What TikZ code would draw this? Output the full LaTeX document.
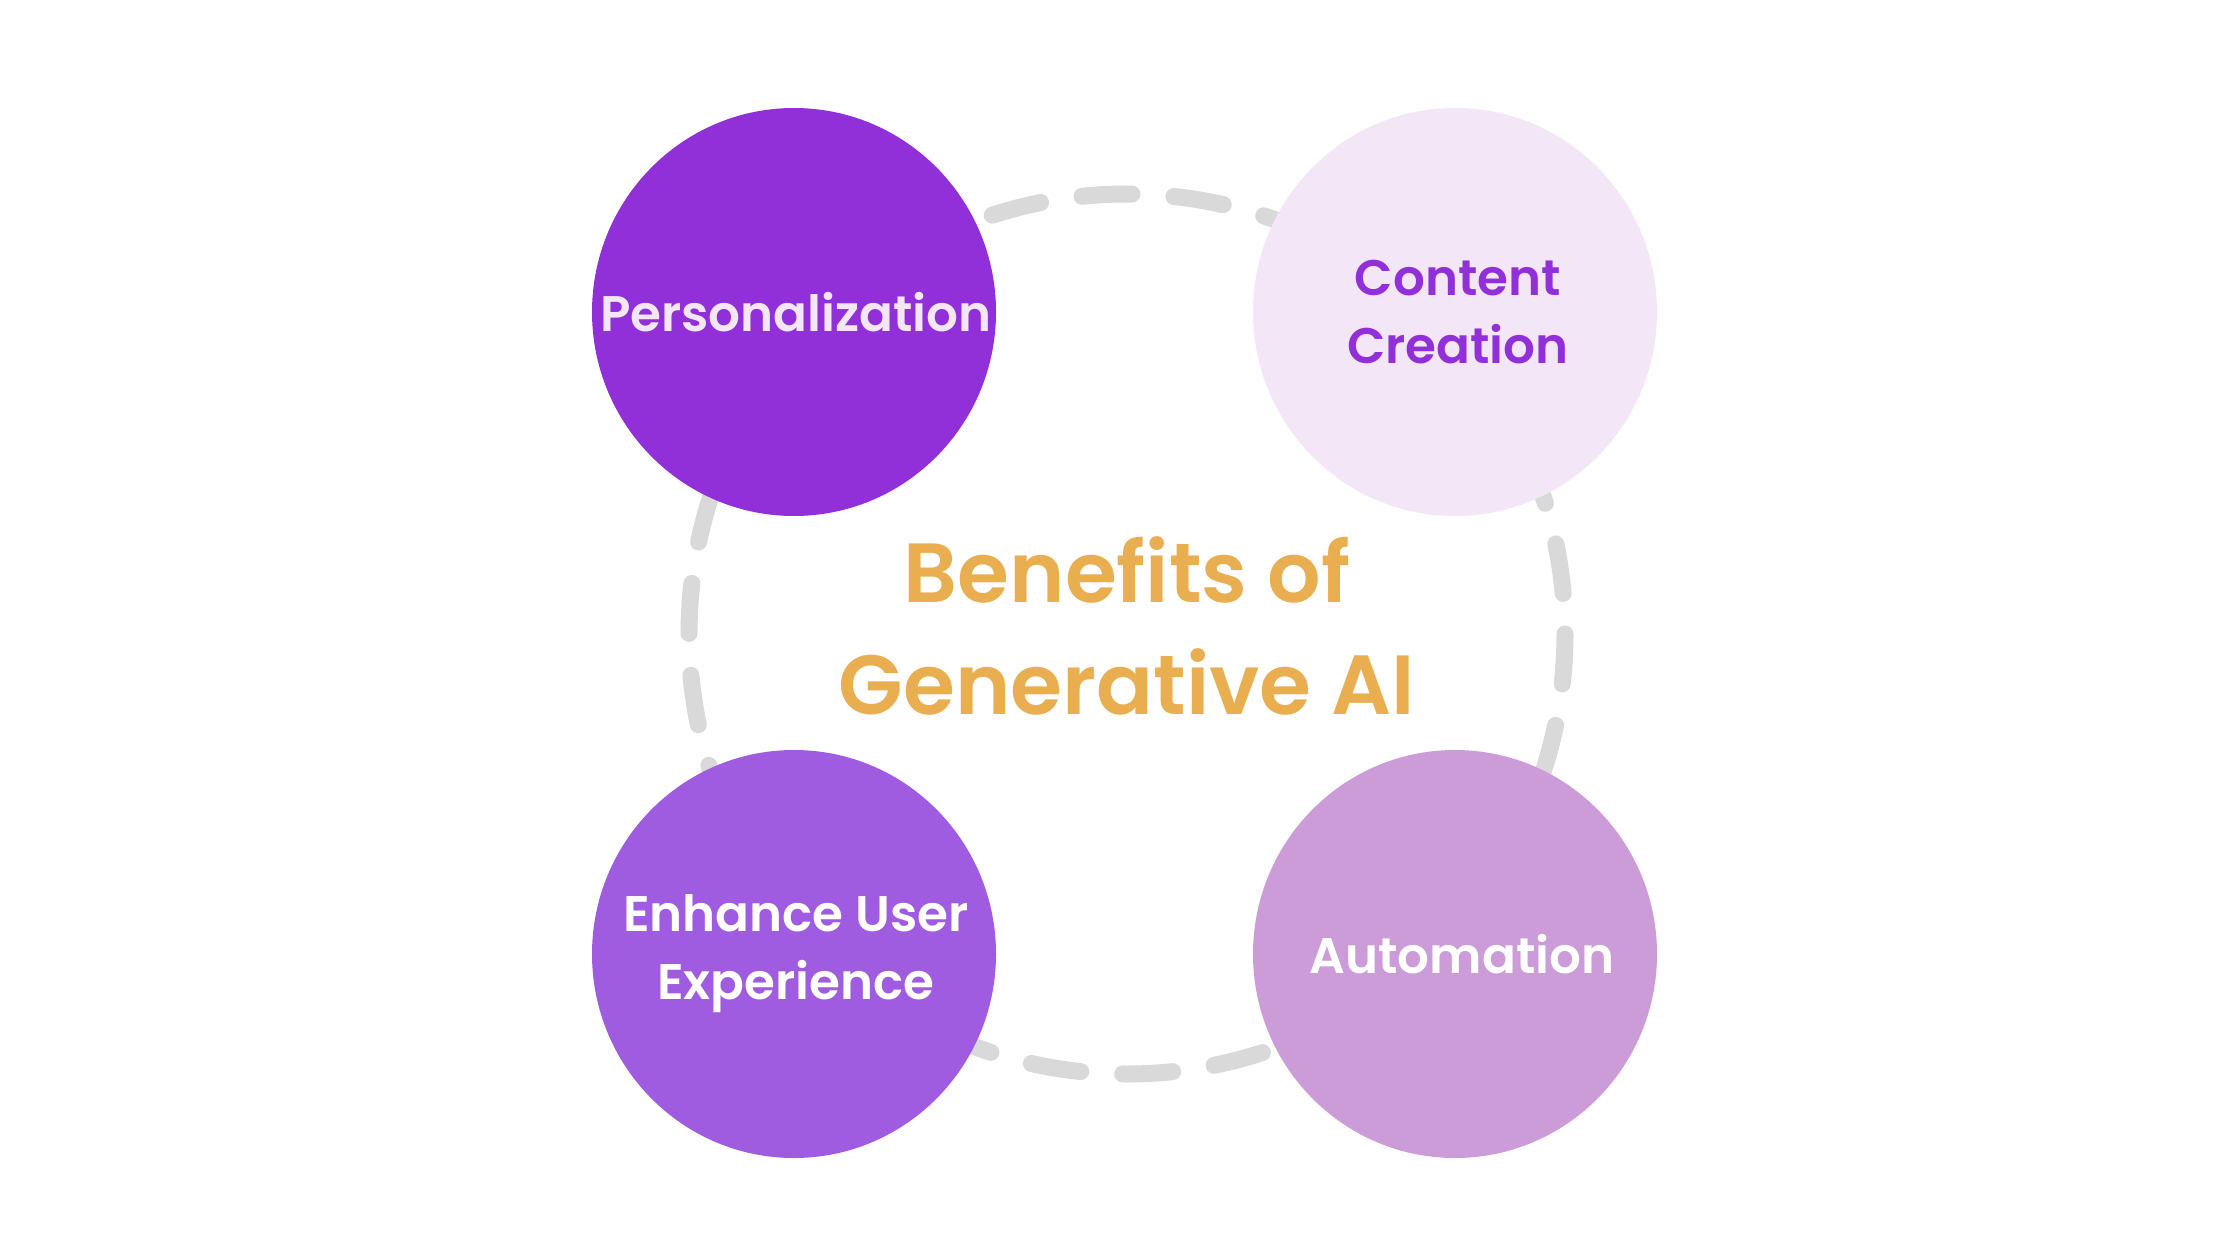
\documentclass[tikz,border=0pt]{standalone}
\usepackage{fontspec}
\usetikzlibrary{shapes.geometric}
\setmainfont{Poppins}[BoldFont={* SemiBold}]
\definecolor{pA}{HTML}{9130D9}
\definecolor{pB}{HTML}{F3E7F7}
\definecolor{pC}{HTML}{A05CE1}
\definecolor{pD}{HTML}{CC9CD9}
\definecolor{ttl}{HTML}{E9AE4F}
\definecolor{ring}{HTML}{D9D9D9}
\begin{document}
\begin{tikzpicture}[x=1pt,y=-1pt,
  blob/.style={ellipse,minimum width=404pt,minimum height=408pt,inner sep=0pt},
  lbl/.style={font=\bfseries\fontsize{50}{68}\selectfont,align=center}]
\useasboundingbox (0,0) rectangle (2240,1260);
\fill[white] (0,0) rectangle (2240,1260);
\draw[ring,line width=17pt,line cap=round,dash pattern=on 50pt off 42pt] (1127,634) ellipse (438 and 440);
\node[blob,fill=pA] (p) at (794,312) {};
\node[blob,fill=pB] (c) at (1455,312) {};
\node[blob,fill=pC] (e) at (794,954) {};
\node[blob,fill=pD] (a) at (1455,954) {};
\node[lbl,text=pB] (pt) at (796,312) {Personalization};
\node[lbl,text=pA] (ct) at (1458,312) {Content\\Creation};
\node[lbl,text=white] (et) at (796,954) {Enhance User\\Experience};
\node[lbl,text=white] (at) at (1462,954) {Automation};
\node[font=\bfseries\fontsize{84}{112}\selectfont,text=ttl,align=center] (t) at (1127,626) {Benefits of\\Generative AI};
\end{tikzpicture}
\end{document}
